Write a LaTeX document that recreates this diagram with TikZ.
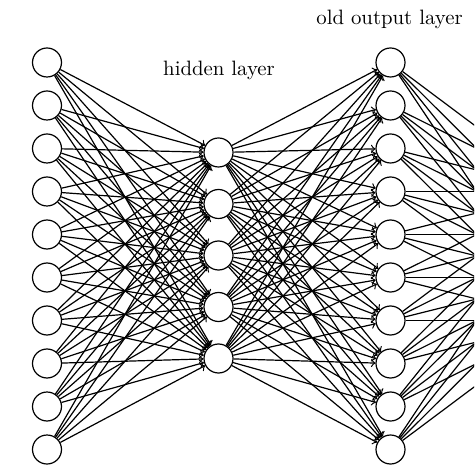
\documentclass[tikz,border=0pt]{standalone}
\begin{document}
\begin{tikzpicture}[x=0.5pt,y=-0.5pt,
  neuron/.style={circle,draw,line width=0.6pt,minimum size=14.5pt,inner sep=0pt},
  conn/.style={->,line width=0.6pt},
  plainconn/.style={line width=0.6pt},
  lbl/.style={inner sep=0pt,font=\fontsize{10.4}{12}\selectfont}]
\useasboundingbox (0,0) rectangle (474,474);
\clip (0,0) rectangle (474,474);
\foreach \i in {1,...,10} {
  \node[neuron] (in\i) at (47,{62.5+43*(\i-1)}) {};
  \node[neuron] (out\i) at (390.5,{62.5+43*(\i-1)}) {};
}
\foreach \j in {1,...,5} {
  \node[neuron] (h\j) at (218.5,{152.5+51.5*(\j-1)}) {};
}
\foreach \k in {1,...,4} {
  \coordinate (nx\k) at (563,{191.5+43*(\k-1)});
}
\foreach \i in {1,...,10} {
  \foreach \j in {1,...,5} {
    \draw[conn] (in\i) -- (h\j);
    \draw[conn] (h\j) -- (out\i);
  }
  \foreach \k in {1,...,4} {
    \draw[plainconn] (out\i) -- (nx\k);
  }
}
\node[lbl] (hl) at (219,70) {hidden layer};
\node[lbl] (ol) at (389.5,19) {old output layer};
\end{tikzpicture}
\end{document}
